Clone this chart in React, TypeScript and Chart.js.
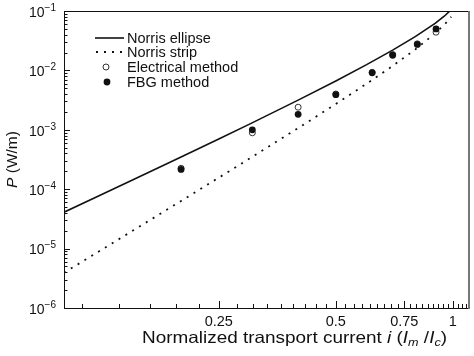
import React, { useEffect, useRef } from "react";
import { Chart, registerables } from "chart.js";

Chart.register(...registerables);

// Theory curves (normalized current i, loss P in W/m)
const curveCurrent = [0.1, 0.12, 0.15, 0.2, 0.25, 0.3, 0.4, 0.5, 0.6, 0.7, 0.8, 0.9, 0.95, 0.982, 0.99];
const ellipseLoss = [4.1e-5, 7.17e-5, 1.425e-4, 3.475e-4, 6.99e-4, 1.247e-3, 3.16e-3, 6.65e-3, 1.25e-2, 2.195e-2, 3.7e-2, 6.2e-2, 8.17e-2, 0.1, 0.106];
const stripLoss = [3.92e-6, 8.13e-6, 1.99e-5, 6.34e-5, 1.563e-4, 3.28e-4, 1.068e-3, 2.72e-3, 5.97e-3, 1.19e-2, 2.25e-2, 4.2e-2, 5.85e-2, 7.47e-2, 8.03e-2];

// Measurements
const measuredCurrent = [0.2, 0.305, 0.4, 0.5, 0.62, 0.7, 0.81, 0.905];
const electricalLoss = [2.25e-4, 8.9e-4, 2.4e-3, 4.0e-3, 9.3e-3, 1.85e-2, 2.8e-2, 4.4e-2];
const fbgLoss = [2.15e-4, 1.0e-3, 1.82e-3, 3.9e-3, 9.1e-3, 1.8e-2, 2.74e-2, 5.0e-2];

// Axis tick labels
const xTickValues = [0.25, 0.5, 0.75, 1];
const xTickLabels = ["0.25", "0.5", "0.75", "1"];
const yDecadeExponents = [-1, -2, -3, -4, -5, -6];

const legendLabels = ["Norris ellipse", "Norris strip", "Electrical method", "FBG method"];

const FONT = "'Liberation Sans', Arial, Helvetica, sans-serif";
const INK = "#111";

type Seg = { t: string; font: string; dy?: number };

function drawRich(
  ctx: CanvasRenderingContext2D,
  segs: Seg[],
  x: number,
  y: number,
  align: "left" | "center" | "right",
  targetWidth?: number
) {
  let total = 0;
  const widths = segs.map((s) => {
    ctx.font = s.font;
    const w = ctx.measureText(s.t).width;
    total += w;
    return w;
  });
  const sx = targetWidth ? targetWidth / total : 1;
  const drawn = total * sx;
  const start = align === "left" ? x : align === "center" ? x - drawn / 2 : x - drawn;
  ctx.save();
  ctx.translate(start, y);
  ctx.scale(sx, 1);
  ctx.textAlign = "left";
  let cx = 0;
  segs.forEach((s, i) => {
    ctx.font = s.font;
    ctx.fillText(s.t, cx, s.dy || 0);
    cx += widths[i];
  });
  ctx.restore();
}

const decorPlugin = {
  id: "decor",
  afterDraw(chart: any) {
    const ctx: CanvasRenderingContext2D = chart.ctx;
    const xs = chart.scales.x;
    const ys = chart.scales.y;
    const a = chart.chartArea;
    ctx.save();
    ctx.strokeStyle = INK;
    ctx.fillStyle = INK;

    // frame
    ctx.lineWidth = 1;
    ctx.beginPath();
    ctx.moveTo(a.left + 0.5, a.top + 0.5);
    ctx.lineTo(a.right, a.top + 0.5);
    ctx.moveTo(a.left + 0.5, a.top);
    ctx.lineTo(a.left + 0.5, a.bottom + 0.5);
    ctx.lineTo(a.right, a.bottom + 0.5);
    ctx.stroke();
    ctx.strokeStyle = "#777";
    ctx.lineWidth = 2;
    ctx.beginPath();
    ctx.moveTo(a.right, a.top);
    ctx.lineTo(a.right, a.bottom + 1);
    ctx.stroke();

    // y ticks
    ctx.strokeStyle = INK;
    ctx.lineWidth = 1;
    ctx.beginPath();
    for (let e = -6; e <= -1; e++) {
      const py = Math.round(ys.getPixelForValue(Math.pow(10, e))) + 0.5;
      ctx.moveTo(a.left, py);
      ctx.lineTo(a.left + 6, py);
      if (e < -1) {
        for (let m = 2; m <= 9; m++) {
          const pm = Math.round(ys.getPixelForValue(m * Math.pow(10, e))) + 0.5;
          ctx.moveTo(a.left, pm);
          ctx.lineTo(a.left + 3.5, pm);
        }
      }
    }
    // x ticks: minor every 0.25/9
    for (let k = 4; k <= 39; k++) {
      const v = (k * 0.25) / 9;
      if (v >= 1.1) break;
      const px = Math.round(xs.getPixelForValue(v)) + 0.5;
      const len = k % 9 === 0 ? 7 : 4;
      ctx.moveTo(px, a.bottom);
      ctx.lineTo(px, a.bottom - len);
    }
    ctx.stroke();

    // y tick labels
    ctx.textBaseline = "middle";
    yDecadeExponents.forEach((e) => {
      const py = ys.getPixelForValue(Math.pow(10, e));
      drawRich(
        ctx,
        [
          { t: "10", font: `14px ${FONT}` },
          { t: "\u2212" + String(-e), font: `10px ${FONT}`, dy: -5 },
        ],
        a.left - 8,
        py + 2,
        "right"
      );
    });

    // x tick labels
    ctx.font = `14.5px ${FONT}`;
    ctx.textAlign = "center";
    ctx.textBaseline = "middle";
    xTickValues.forEach((v, i) => {
      const px = xs.getPixelForValue(v);
      ctx.fillText(xTickLabels[i], px, a.bottom + 14);
    });

    // x title
    ctx.textBaseline = "alphabetic";
    const tf = `16.5px ${FONT}`;
    const ti = `italic 16.5px ${FONT}`;
    const ts = `italic 11px ${FONT}`;
    drawRich(
      ctx,
      [
        { t: "Normalized transport current ", font: tf },
        { t: "i", font: ti },
        { t: " (", font: tf },
        { t: "I", font: ti },
        { t: "m", font: ts, dy: 3 },
        { t: " /", font: tf },
        { t: "I", font: ti },
        { t: "c", font: ts, dy: 3 },
        { t: ")", font: tf },
      ],
      142,
      a.bottom + 35,
      "left",
      305
    );

    // y title
    ctx.save();
    ctx.translate(17, (a.top + a.bottom) / 2);
    ctx.rotate(-Math.PI / 2);
    drawRich(
      ctx,
      [
        { t: "P", font: `italic 15.5px ${FONT}` },
        { t: " (W/m)", font: `15.5px ${FONT}` },
      ],
      0,
      0,
      "center"
    );
    ctx.restore();

    // legend
    const lx0 = 95;
    const lx1 = 124;
    const tx = 127;
    const rows = [38, 52, 67, 82];
    ctx.lineWidth = 1.6;
    ctx.strokeStyle = INK;
    ctx.beginPath();
    ctx.moveTo(lx0, rows[0]);
    ctx.lineTo(lx1, rows[0]);
    ctx.stroke();
    ctx.setLineDash([2, 6]);
    ctx.lineWidth = 1.8;
    ctx.beginPath();
    ctx.moveTo(lx0 + 1, rows[1]);
    ctx.lineTo(lx1, rows[1]);
    ctx.stroke();
    ctx.setLineDash([]);
    ctx.lineWidth = 1;
    ctx.strokeStyle = "#333";
    ctx.fillStyle = "#fff";
    ctx.beginPath();
    ctx.arc(106, rows[2], 3, 0, Math.PI * 2);
    ctx.fill();
    ctx.stroke();
    ctx.fillStyle = INK;
    ctx.beginPath();
    ctx.arc(107, rows[3], 3.4, 0, Math.PI * 2);
    ctx.fill();
    ctx.font = `14.5px ${FONT}`;
    ctx.textAlign = "left";
    ctx.textBaseline = "middle";
    legendLabels.forEach((s, i) => ctx.fillText(s, tx, rows[i] + 1));

    ctx.restore();
  },
};

export default function App() {
  const ref = useRef<HTMLCanvasElement | null>(null);
  useEffect(() => {
    document.body.style.margin = "0";
    const canvas = ref.current;
    if (!canvas) return;
    const toXY = (xs: number[], ys: number[]) => xs.map((x, i) => ({ x, y: ys[i] }));
    const chart = new Chart(canvas, {
      type: "line",
      data: {
        datasets: [
          {
            label: legendLabels[3],
            data: toXY(measuredCurrent, fbgLoss),
            showLine: false,
            pointRadius: 3.4,
            pointBackgroundColor: INK,
            pointBorderColor: INK,
            pointBorderWidth: 0,
            order: 0,
          },
          {
            label: legendLabels[2],
            data: toXY(measuredCurrent, electricalLoss),
            showLine: false,
            pointRadius: 3,
            pointBackgroundColor: "#fff",
            pointBorderColor: "#333",
            pointBorderWidth: 1,
            order: 1,
          },
          {
            label: legendLabels[0],
            data: toXY(curveCurrent, ellipseLoss),
            borderColor: INK,
            borderWidth: 1.6,
            pointRadius: 0,
            tension: 0,
            order: 2,
          },
          {
            label: legendLabels[1],
            data: toXY(curveCurrent, stripLoss),
            borderColor: INK,
            borderWidth: 1.8,
            borderDash: [2, 6],
            pointRadius: 0,
            tension: 0,
            order: 3,
          },
        ],
      },
      options: {
        animation: false,
        responsive: false,
        devicePixelRatio: 1,
        layout: { padding: { left: 64, right: 2, top: 11, bottom: 48 } },
        plugins: { legend: { display: false }, tooltip: { enabled: false } },
        scales: {
          x: { type: "logarithmic", min: 0.1, max: 1.1, display: false },
          y: { type: "logarithmic", min: 1e-6, max: 1e-1, display: false },
        },
      },
      plugins: [decorPlugin],
    } as any);
    return () => chart.destroy();
  }, []);
  return (
    <div style={{ width: 474, height: 356, background: "#fff" }}>
      <canvas ref={ref} width={474} height={356} />
    </div>
  );
}
